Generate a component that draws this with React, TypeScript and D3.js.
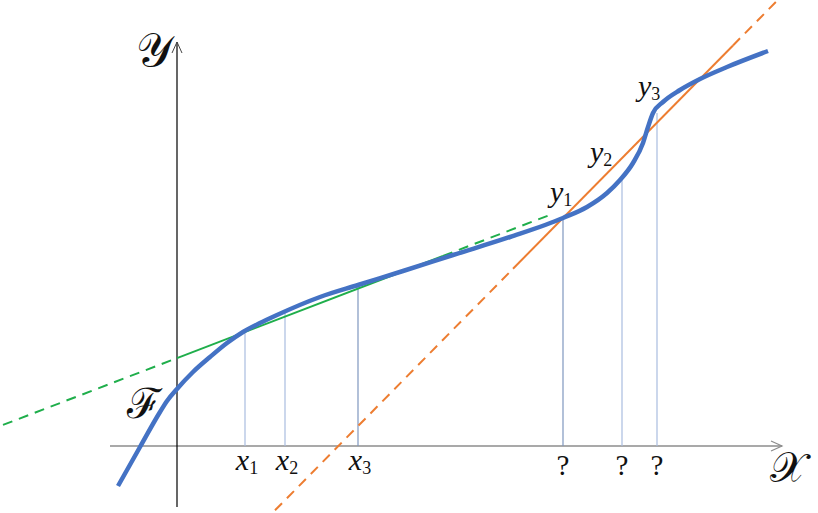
import * as d3 from 'd3'

// curve F (data units: 1 = 100px, origin at axes crossing)
const curveX = [-0.59, -0.37, -0.17, -0.1, 0, 0.16, 0.33, 0.5, 0.66, 0.83, 1.0, 1.43, 1.81, 2.26, 2.76, 3.33, 3.86, 4.1, 4.3, 4.43, 4.56, 4.66, 4.71, 4.76, 4.86, 5.03, 5.23, 5.5, 5.91]
const curveY = [-0.4, -0.01, 0.34, 0.45, 0.57, 0.74, 0.89, 1.03, 1.14, 1.23, 1.31, 1.49, 1.61, 1.75, 1.91, 2.09, 2.28, 2.39, 2.53, 2.66, 2.83, 3.03, 3.19, 3.33, 3.44, 3.56, 3.67, 3.79, 3.95]

// drop lines from the curve down to the x axis
const dropX = [0.68, 1.08, 1.81, 3.86, 4.45, 4.8]
const dropY = [1.15, 1.34, 1.61, 2.28, 2.68, 3.33]
const dropColor = ['#a9bde0', '#a9bde0', '#7f97bf', '#7f97bf', '#a9bde0', '#a9bde0']

const xLabels = ['1', '2', '3']
const qMarks = ['?', '?', '?']
const yLabels = ['1', '2', '3']

// green tangent: through (0.68, 1.14)
const greenBreaks = [-1.74, 0, 2.66, 3.73]
const greenSlope = 0.384
// orange secant: through (3.86, 2.28)
const orangeBreaks = [0.98, 3.36, 5.56, 6.01]
const orangeSlope = 1.015

const W = 818
const H = 513

const App = () => {
    const x = d3.scaleLinear().domain([0, 6]).range([177, 777])
    const y = d3.scaleLinear().domain([0, 4]).range([446, 46])

    const pts = curveX.map((v, i) => [v, curveY[i]] as [number, number])
    const curvePath = d3
        .line<[number, number]>()
        .x(d => x(d[0]))
        .y(d => y(d[1]))
        .curve(d3.curveMonotoneX)(pts) as string

    const seg = (a: number, b: number, x0: number, y0: number, k: number) =>
        `M${x(a)},${y(y0 + k * (a - x0))}L${x(b)},${y(y0 + k * (b - x0))}`

    const lineSegs = (breaks: number[], x0: number, y0: number, k: number, colour: string, key: string) =>
        breaks.slice(0, -1).map((b, i) => (
            <path
                key={key + i}
                d={seg(b, breaks[i + 1], x0, y0, k)}
                stroke={colour}
                strokeWidth={2}
                fill='none'
                strokeDasharray={i === 1 ? undefined : '10,7'}
            />
        ))

    const axisY = y(0)
    const axisX = x(0)

    return (
        <svg width={W} height={H} style={{ position: 'absolute', left: 0, top: 0, background: '#fff' }}>
            {/* axes */}
            <path d={`M110,${axisY}H782`} stroke='#8c8c8c' strokeWidth={1.5} fill='none' />
            <path d={`M771,${axisY - 5}L782,${axisY}L771,${axisY + 5}`} stroke='#8c8c8c' strokeWidth={1.2} fill='none' />
            <path d={`M${axisX},507V42`} stroke='#000' strokeWidth={1.2} fill='none' />
            <path d={`M${axisX - 5},53L${axisX},42L${axisX + 5},53`} stroke='#444' strokeWidth={1} fill='none' />

            {dropX.map((v, i) => (
                <line key={'d' + i} x1={x(v)} x2={x(v)} y1={axisY} y2={y(dropY[i])} stroke={dropColor[i]} strokeWidth={1.2} />
            ))}

            {lineSegs(greenBreaks, 0.68, 1.14, greenSlope, '#1fae4b', 'g')}
            {lineSegs(orangeBreaks, 3.86, 2.28, orangeSlope, '#ed7d31', 'o')}

            <path d={curvePath} stroke='#4472c4' strokeWidth={4.5} fill='none' strokeLinecap='butt' />

            <g fontFamily='Liberation Serif' fontSize={30} fill='#111'>
                {/* x labels */}
                {xLabels.map((s, i) => (
                    <text key={'x' + i} x={x(dropX[i]) + 2} y={axisY + 24} fontStyle='italic' textAnchor='middle'>
                        x<tspan fontStyle='normal' fontSize={18} dy={4}>{s}</tspan>
                    </text>
                ))}
                {qMarks.map((s, i) => (
                    <text key={'q' + i} x={x(dropX[i + 3])} y={axisY + 29} fontSize={29} textAnchor='middle'>
                        {s}
                    </text>
                ))}
                {/* y labels */}
                {yLabels.map((s, i) => {
                    const off = [[-13, -16], [-32, -16], [-19, -17]][i]
                    return (
                        <text key={'y' + i} x={x(dropX[i + 3]) + off[0]} y={y(dropY[i + 3]) + off[1]} fontStyle='italic'>
                            y<tspan fontStyle='normal' fontSize={18} dy={4}>{s}</tspan>
                        </text>
                    )
                })}
                <text x={136} y={66} fontSize={46} fontWeight='normal'>𝒴</text>
                <text x={770} y={482} fontSize={42}>𝒳</text>
                <text x={127} y={418} fontSize={42}>ℱ</text>
            </g>
        </svg>
    )
}

export default App
